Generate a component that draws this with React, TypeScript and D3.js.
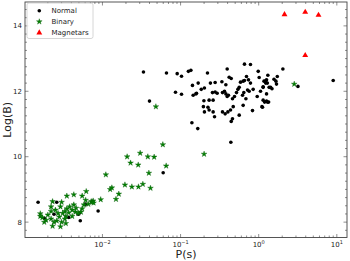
import React from 'react';
import * as d3 from 'd3';

const width = 350;
const height = 261;
const margin = { top: 2, right: 3, bottom: 23.5, left: 25 };

// [P (s), log B]
const normal: [number, number][] = [
  [0.0015, 8.61], [0.0026, 8.61], [0.0018, 8.12], [0.0024, 8.24], [0.0037, 8.14], [0.0052, 8.04],
  [0.0049, 8.24], [0.0051, 8.28], [0.0061, 8.55], [0.0088, 8.34], [0.0599, 9.51],
  [0.0335, 12.59], [0.066, 12.56], [0.0905, 12.54], [0.1028, 12.46], [0.126, 12.61], [0.1355, 12.64],
  [0.142, 12.18], [0.168, 12.25], [0.0861, 11.97], [0.1028, 11.91], [0.145, 11.88], [0.16, 11.94],
  [0.04, 11.7], [0.1396, 11.04], [0.166, 10.86], [0.44, 10.44],
  [0.221, 12.56], [0.395, 12.68], [0.658, 12.83], [0.785, 12.82], [0.986, 12.61], [0.419, 12.43],
  [0.445, 12.39], [0.241, 12.25], [0.277, 12.27], [0.338, 12.29], [0.38, 12.2], [0.585, 12.28],
  [0.633, 12.31], [0.658, 12.33], [0.698, 12.45], [0.74, 12.35], [0.785, 12.25], [1.014, 12.42],
  [1.14, 12.14], [1.24, 12.33], [1.29, 12.25], [0.184, 12.06], [0.202, 12.1], [0.157, 11.92],
  [0.256, 11.96], [0.277, 11.98], [0.294, 11.94], [0.344, 11.96], [0.365, 12.0], [0.38, 11.92],
  [0.395, 11.84], [0.41, 11.88], [0.462, 11.77], [0.49, 11.84], [0.52, 11.96], [0.542, 12.06],
  [0.563, 12.12], [0.621, 11.88], [0.686, 11.77], [0.755, 12.0], [0.85, 12.06], [0.957, 11.84],
  [1.055, 12.0], [1.14, 11.73], [1.26, 11.7], [0.199, 11.71], [0.232, 11.73], [0.261, 11.73],
  [0.196, 11.53], [0.202, 11.37], [0.224, 11.51], [0.232, 11.43], [0.261, 11.37], [0.272, 11.22],
  [0.344, 11.37], [0.372, 11.31], [0.403, 11.37], [0.436, 11.43], [0.472, 11.53], [0.445, 11.08],
  [0.462, 11.16], [0.563, 11.27], [0.633, 11.57], [0.833, 11.41], [1.1, 11.53], [1.29, 11.67],
  [0.645, 11.96], [0.72, 12.04],
  [2.04, 12.68], [8.99, 12.33], [3.18, 12.15], [1.31, 12.49], [1.26, 12.35], [1.17, 12.31],
  [1.23, 12.25], [1.57, 12.37], [1.66, 12.31], [1.73, 12.45], [1.69, 12.22], [1.42, 12.12],
  [1.48, 12.08], [1.36, 12.12], [1.14, 12.12], [1.26, 11.92], [1.19, 11.67], [1.34, 11.67], [1.12, 11.51],
];

const binary: [number, number][] = [
  [0.0016, 8.26], [0.0016, 8.18], [0.0017, 8.14], [0.0018, 8.0], [0.002, 8.22], [0.0022, 8.33],
  [0.0022, 8.1], [0.0023, 7.88], [0.0023, 8.63], [0.0025, 8.37], [0.0027, 8.27], [0.0028, 8.16],
  [0.0029, 8.47], [0.003, 8.61], [0.0031, 8.27], [0.003, 8.0], [0.0033, 8.33], [0.0034, 8.18],
  [0.0035, 8.41], [0.0035, 8.8], [0.0037, 8.29], [0.0038, 8.47], [0.0041, 8.37], [0.0041, 8.18],
  [0.0043, 8.84], [0.0043, 8.53], [0.0045, 8.31], [0.0046, 8.43], [0.0049, 8.27], [0.0053, 8.31],
  [0.0055, 8.41], [0.0055, 8.8], [0.0058, 8.53], [0.0061, 8.67], [0.0062, 8.94], [0.0066, 8.55],
  [0.0072, 8.63], [0.0076, 8.65], [0.0095, 8.69], [0.0026, 8.04], [0.0029, 7.86], [0.0024, 8.0],
  [0.0034, 7.96], [0.0033, 8.1], [0.0022, 8.47], [0.0019, 8.06], [0.0074, 8.61], [0.0077, 8.59],
  [0.0593, 10.37], [0.0207, 10.0], [0.0304, 10.11], [0.0381, 10.0], [0.0459, 9.99], [0.0229, 9.81],
  [0.0287, 9.75], [0.0654, 9.72], [0.0393, 9.5], [0.01105, 9.45], [0.0194, 9.14], [0.0238, 9.08],
  [0.0289, 9.08], [0.0329, 9.16], [0.0412, 9.04], [0.01255, 9.0], [0.0132, 9.05], [0.0162, 8.86],
  [0.0149, 8.7], [0.0483, 11.53], [0.2, 10.08], [2.85, 12.22],
];

const magnetars: [number, number][] = [
  [2.14, 14.35], [3.94, 14.42], [5.83, 14.33], [3.94, 13.1],
];

const xMajor = [-2, -1, 0, 1];
const yMajor = [8, 10, 12, 14];
const legendLabels = ['Normal', 'Binary', 'Magnetars'];

const font = 'DejaVu Sans, sans-serif';
const spine = '#444';

const App = () => {
  const x = d3.scaleLog().domain([1.02e-3, 13.5]).range([margin.left, width - margin.right]);
  const y = d3.scaleLinear().domain([7.53, 14.73]).range([height - margin.bottom, margin.top]);
  const [x0, x1] = x.range();
  const [y0, y1] = y.range();

  const star = d3.symbol().type(d3.symbolStar).size(10)();
  const tri = d3.symbol().type(d3.symbolTriangle).size(15)();

  const xMinor: number[] = [];
  for (let e = -3; e <= 1; e++) {
    for (let m = 2; m <= 9; m++) {
      const v = m * Math.pow(10, e);
      if (v > x.domain()[0] && v < x.domain()[1]) xMinor.push(v);
    }
  }
  const yMinor = d3.range(7.75, 14.75, 0.25).filter(v => v % 2 !== 0);

  const markers = [
    (cx: number, cy: number) => <circle cx={cx} cy={cy} r={1.8} fill="black" />,
    (cx: number, cy: number) => <path d={star} transform={`translate(${cx},${cy})`} fill="green" stroke="#0a5f0a" strokeWidth={0.4} />,
    (cx: number, cy: number) => <path d={tri} transform={`translate(${cx},${cy})`} fill="red" />,
  ];

  return (
    <svg width={width} height={height} style={{ position: 'absolute', left: 0, top: 0, background: 'white' }}>
      {/* ticks, inward on all sides */}
      <g stroke={spine} strokeWidth={0.6}>
        {xMajor.map(e => (
          <g key={e}>
            <line x1={x(Math.pow(10, e))} x2={x(Math.pow(10, e))} y1={y0} y2={y0 - 3.5} />
            <line x1={x(Math.pow(10, e))} x2={x(Math.pow(10, e))} y1={y1} y2={y1 + 3.5} />
          </g>
        ))}
        {xMinor.map(v => (
          <g key={v}>
            <line x1={x(v)} x2={x(v)} y1={y0} y2={y0 - 2} />
            <line x1={x(v)} x2={x(v)} y1={y1} y2={y1 + 2} />
          </g>
        ))}
        {yMajor.map(v => (
          <g key={v}>
            <line x1={x0} x2={x0 + 3.5} y1={y(v)} y2={y(v)} />
            <line x1={x1} x2={x1 - 3.5} y1={y(v)} y2={y(v)} />
          </g>
        ))}
        {yMinor.map(v => (
          <g key={v}>
            <line x1={x0} x2={x0 + 2} y1={y(v)} y2={y(v)} />
            <line x1={x1} x2={x1 - 2} y1={y(v)} y2={y(v)} />
          </g>
        ))}
      </g>

      {/* tick labels */}
      <g fontFamily={font} fill="#222">
        {xMajor.map(e => (
          <text key={e} x={x(Math.pow(10, e))} y={247} fontSize={7} textAnchor="middle">
            10<tspan fontSize={5} dy={-3}>{e < 0 ? `\u2212${-e}` : e}</tspan>
          </text>
        ))}
        {yMajor.map(v => (
          <text key={v} x={x0 - 3} y={y(v)} dy="0.35em" fontSize={7} textAnchor="end">{v}</text>
        ))}
        <text x={(x0 + x1) / 2} y={258} fontSize={11} textAnchor="middle">P(s)</text>
        <text transform={`translate(11,${(y0 + y1) / 2}) rotate(-90)`} fontSize={11} textAnchor="middle">Log(B)</text>
      </g>

      {/* points */}
      {normal.map((d, i) => <g key={`n${i}`}>{markers[0](x(d[0]), y(d[1]))}</g>)}
      {binary.map((d, i) => <g key={`b${i}`}>{markers[1](x(d[0]), y(d[1]))}</g>)}
      {magnetars.map((d, i) => <g key={`m${i}`}>{markers[2](x(d[0]), y(d[1]))}</g>)}

      {/* frame */}
      <rect x={x0} y={y1} width={x1 - x0} height={y0 - y1} fill="none" stroke={spine} strokeWidth={0.9} />

      {/* legend */}
      <g>
        <rect x={27} y={3} width={66} height={35.5} rx={2} fill="white" fillOpacity={0.8} stroke="#ccc" strokeWidth={0.8} />
        {legendLabels.map((lab, i) => (
          <g key={lab}>
            {markers[i](39.3, 10.7 + i * 11)}
            <text x={51.5} y={10.7 + i * 11} dy="0.35em" fontSize={7} fontFamily={font} fill="#222">{lab}</text>
          </g>
        ))}
      </g>
    </svg>
  );
};

export default App;
